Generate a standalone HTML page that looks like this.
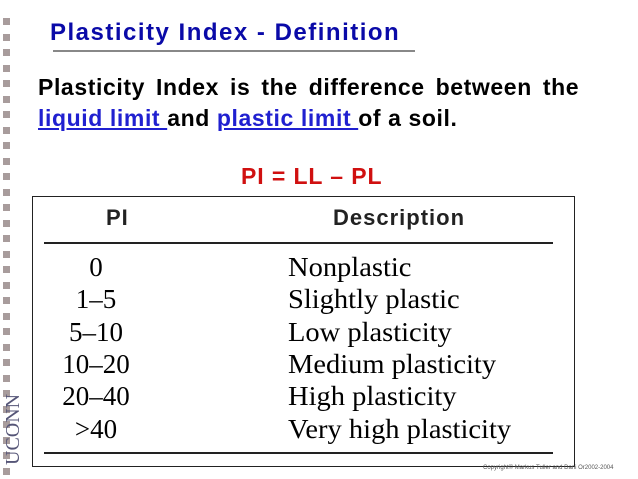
<!DOCTYPE html>
<html><head><meta charset="utf-8"><style>
body{margin:0;width:638px;height:479px;background:#fff;position:relative;overflow:hidden;font-family:"Liberation Sans",sans-serif}
.a{position:absolute;white-space:nowrap}
.sq{position:absolute;left:3px;width:7px;height:7px;background:#a89c9c}
.pi{position:absolute;width:120px;left:36px;text-align:center;font-family:"Liberation Serif",serif;font-size:27px}
.d{position:absolute;left:288px;font-family:"Liberation Serif",serif;font-size:27px;white-space:nowrap;transform:scaleX(1.055);transform-origin:0 0}
</style></head><body>
<div id="sq"></div>
<div class="a" style="left:50px;top:19px;font-size:24px;font-weight:bold;color:#0a0aa8;letter-spacing:1.5px">Plasticity Index - Definition</div>
<div class="a" style="left:53px;top:50px;width:362px;height:2px;background:#888"></div>
<div class="a" style="left:38px;top:74px;font-size:23px;font-weight:bold;letter-spacing:0.6px;word-spacing:4px">Plasticity Index is the difference between the</div>
<div class="a" style="left:38px;top:105px;font-size:23px;font-weight:bold;letter-spacing:0.6px"><span style="color:#2020d0;text-decoration:underline">liquid limit </span>and <span style="color:#2020d0;text-decoration:underline">plastic limit </span>of a soil.</div>
<div class="a" style="left:241px;top:163px;font-size:23px;font-weight:bold;color:#d01010;letter-spacing:0.9px">PI = LL – PL</div>
<div class="a" style="left:32px;top:196px;width:543px;height:271px;border:1px solid #222;box-sizing:border-box"></div>
<div class="a" style="left:106px;top:205px;font-size:22px;font-weight:bold;color:#222;letter-spacing:1px">PI</div>
<div class="a" style="left:333px;top:205px;font-size:22px;font-weight:bold;color:#222;letter-spacing:1px">Description</div>
<div class="a" style="left:44px;top:242px;width:509px;height:2px;background:#222"></div>
<div class="a" style="left:44px;top:452px;width:509px;height:2px;background:#222"></div>
<div id="rows"></div>
<div class="a" style="left:2px;top:465px;transform:rotate(-90deg);transform-origin:0 0;font-family:'Liberation Serif',serif;font-size:20px;color:#557">UCONN</div>
<div class="a" style="left:483px;top:465px;font-size:6px;color:#555">Copyright© Markus Tuller and Dani Or2002-2004</div>
<script>
const ranges=["0","1–5","5–10","10–20","20–40",">40"];
const descs=["Nonplastic","Slightly plastic","Low plasticity","Medium plasticity","High plasticity","Very high plasticity"];
const rows=document.getElementById('rows');
ranges.forEach((r,i)=>{
 const y=252+i*32.3;
 const a=document.createElement('div');a.className='pi';a.style.top=y+'px';a.textContent=r;
 
 
 rows.appendChild(a);
 const b=document.createElement('div');b.className='d';b.style.top=y+'px';b.textContent=descs[i];
 
 
 rows.appendChild(b);
});
const sq=document.getElementById('sq');
for(let y=18;y<470;y+=15.5){const s=document.createElement('div');s.className='sq';s.style.top=y+'px';
 
 
 sq.appendChild(s);}
</script>
</body></html>
